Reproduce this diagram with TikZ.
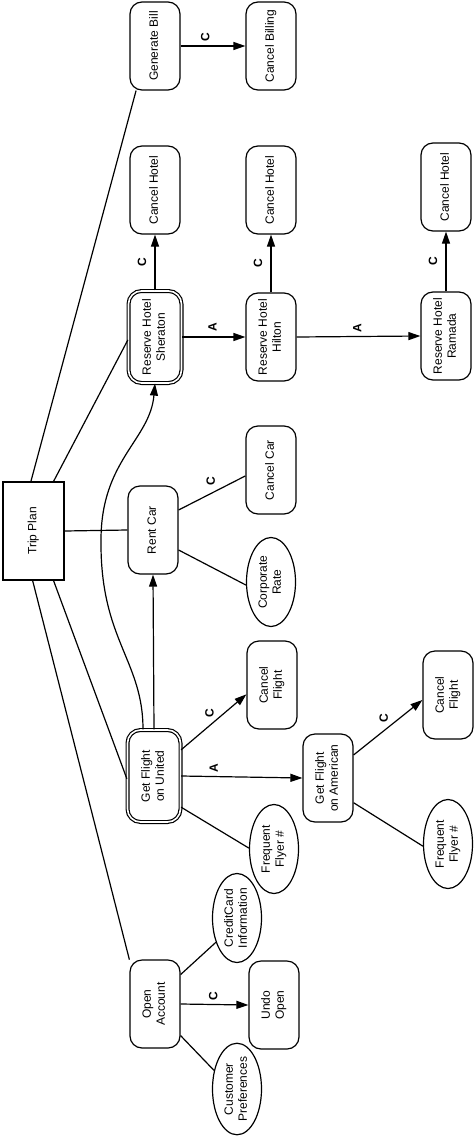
\documentclass[tikz,border=0pt]{standalone}
\usepackage{fontspec}
\setmainfont{Liberation Sans}
\usepackage{graphicx}
\usepackage{tikz}
\usetikzlibrary{arrows.meta,shapes.geometric}

\newcommand{\vt}[1]{\rotatebox{90}{\begin{tabular}{@{}c@{}}#1\end{tabular}}}

\begin{document}
\begin{tikzpicture}[x=1pt,y=1pt,
    font=\fontsize{12}{14}\selectfont,
    line width=1.2pt,
    task/.style={draw, rounded corners=12pt, minimum width=50pt, minimum height=88pt, inner sep=0pt},
    dtask/.style={draw, double, double distance=1.6pt, rounded corners=13pt, minimum width=53pt, minimum height=92pt, inner sep=0pt},
    datum/.style={draw, ellipse, minimum width=49pt, minimum height=89pt, inner sep=0pt},
    root/.style={draw, rectangle, minimum width=61pt, minimum height=98pt, inner sep=0pt},
    arr/.style={-{Triangle[length=12pt,width=8pt]}},
    lab/.style={font=\fontsize{12}{14}\selectfont\bfseries, inner sep=2pt}]
    \useasboundingbox (0,0) rectangle (474,-1137);

    % root
    \node[root] (trip) at (33.5,-531) {\vt{Trip Plan}};

    % billing
    \node[task] (genbill) at (155,-46) {\vt{Generate Bill}};
    \node[task] (cancelbill) at (271,-46) {\vt{Cancel Billing}};

    % hotels
    \node[dtask] (sheraton) at (155,-337) {\vt{Reserve Hotel\\Sheraton}};
    \node[task] (hilton) at (271,-337) {\vt{Reserve Hotel\\Hilton}};
    \node[task] (ramada) at (446,-336) {\vt{Reserve Hotel\\Ramada}};
    \node[task] (cancelh1) at (155,-190) {\vt{Cancel Hotel}};
    \node[task] (cancelh2) at (271,-190) {\vt{Cancel Hotel}};
    \node[task] (cancelh3) at (446,-187) {\vt{Cancel Hotel}};

    % car
    \node[task] (rentcar) at (153,-530) {\vt{Rent Car}};
    \node[task] (cancelcar) at (271,-470) {\vt{Cancel Car}};
    \node[datum] (corprate) at (271,-582) {\vt{Corporate\\Rate}};

    % flights
    \node[dtask] (united) at (154,-776) {\vt{Get Flight\\on United}};
    \node[task] (american) at (328,-778) {\vt{Get Flight\\on American}};
    \node[task] (cancelf1) at (272,-685) {\vt{Cancel\\Flight}};
    \node[task] (cancelf2) at (448,-695) {\vt{Cancel\\Flight}};
    \node[datum] (ffone) at (274,-849) {\vt{Frequent\\Flyer \#}};
    \node[datum] (fftwo) at (448,-844) {\vt{Frequent\\Flyer \#}};

    % account
    \node[task] (openacc) at (155,-1004) {\vt{Open\\Account}};
    \node[task] (undo) at (274,-1005) {\vt{Undo\\Open}};
    \node[datum] (credit) at (237,-918) {\vt{CreditCard\\Information}};
    \node[datum] (custpref) at (237,-1089) {\vt{Customer\\Preferences}};

    % decomposition
    \draw (trip.93) -- (genbill.-113);
    \draw (trip.68) -- (sheraton.186);
    \draw (trip.0) -- (rentcar.west);
    \draw (trip.-68) -- (united.186);
    \draw (trip.-91) -- (openacc.120);

    % compensations and alternatives
    \draw[arr] (genbill.east) -- node[lab, above=2pt, pos=0.4] {\vt{C}} (cancelbill.west);
    \draw[arr] (sheraton.north) -- node[lab, left=2pt] {\vt{C}} (cancelh1.south);
    \draw[arr] (hilton.north) -- node[lab, left=2pt] {\vt{C}} (cancelh2.south);
    \draw[arr] (ramada.north) -- node[lab, left=2pt] {\vt{C}} (cancelh3.south);
    \draw[arr] (sheraton.east) -- node[lab, above=3pt] {\vt{A}} (hilton.west);
    \draw[arr] (hilton.east) -- node[lab, above=1pt] {\vt{A}} (ramada.west);

    \draw (rentcar.38) -- node[lab, above=5pt] {\vt{C}} (cancelcar.193);
    \draw (rentcar.-38) -- (corprate.187);

    \draw[arr] (united.north) -- (rentcar.south);
    \draw[arr] ([xshift=-11pt]united.north) .. controls (143,-660) and (100,-640) .. (101,-540)
        .. controls (101,-460) and (150,-440) .. (sheraton.south);
    \draw[arr] (united.44) -- node[lab, above=2pt, xshift=-3pt] {\vt{C}} (cancelf1.200);
    \draw[arr] (united.east) -- node[lab, above=1pt, pos=0.28] {\vt{A}} (american.west);
    \draw (united.-49) -- (ffone.178);
    \draw[arr] (american.42) -- node[lab, above=2pt, xshift=-3pt] {\vt{C}} (cancelf2.191);
    \draw (american.-44) -- (fftwo.185);

    \draw[arr] (openacc.east) -- node[lab, above=1pt] {\vt{C}} (undo.west);
    \draw (openacc.49) -- (credit.229);
    \draw (openacc.-51) -- (custpref.141);
\end{tikzpicture}
\end{document}
